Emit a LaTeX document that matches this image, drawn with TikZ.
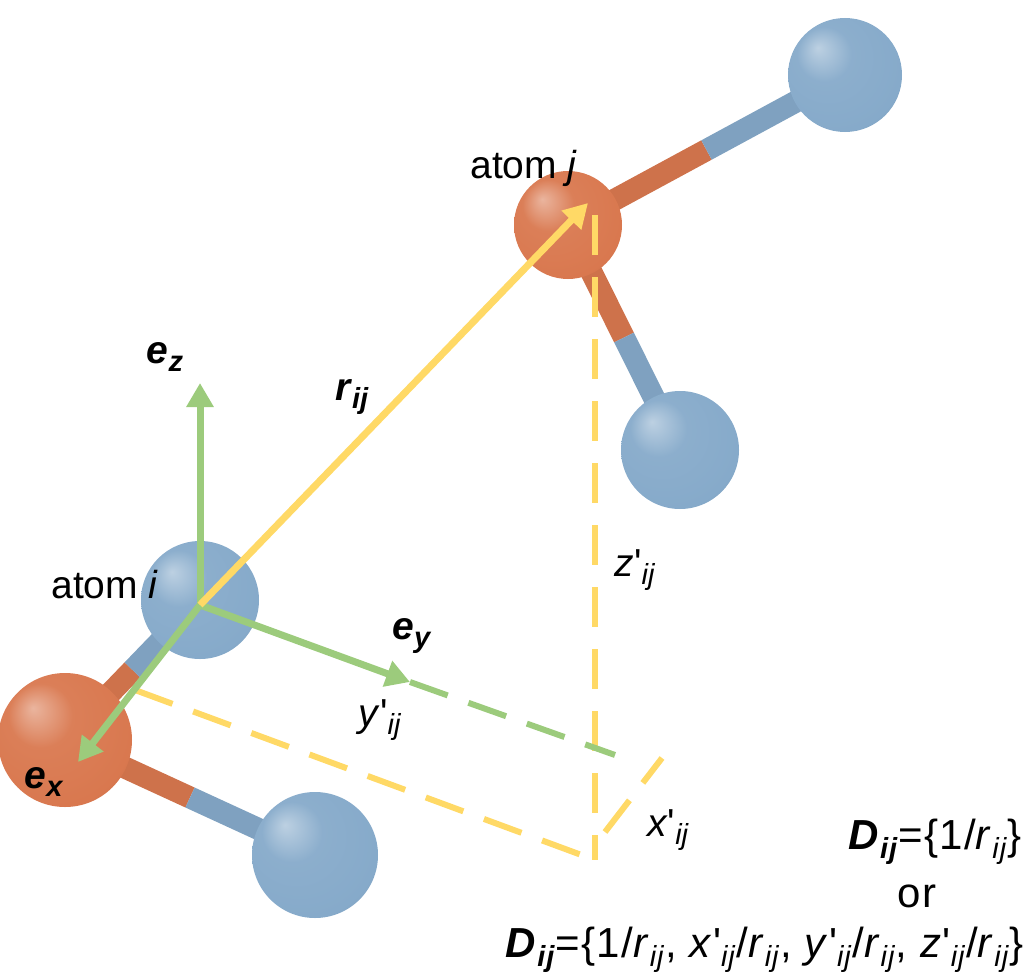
\documentclass[tikz,border=0pt]{standalone}
\usepackage{fontspec}
\setmainfont{Liberation Sans}
\usetikzlibrary{arrows.meta,calc}
\definecolor{orb}{HTML}{D9784F}
\definecolor{blb}{HTML}{86AACA}
\definecolor{grn}{HTML}{9CCB7C}
\definecolor{ylw}{HTML}{FFD966}
\pgfdeclareradialshading{sphO}{\pgfpoint{-12bp}{12bp}}{color(0bp)=(orb!55!white); color(12bp)=(orb!95!white); color(30bp)=(orb); color(44bp)=(orb!85!black); color(50bp)=(orb!70!black)}
\pgfdeclareradialshading{sphB}{\pgfpoint{-12bp}{12bp}}{color(0bp)=(blb!55!white); color(12bp)=(blb!95!white); color(30bp)=(blb); color(44bp)=(blb!85!black); color(50bp)=(blb!70!black)}
\newcommand\sbs[1]{\raisebox{-0.22em}{\fontsize{29}{30}\selectfont #1}}
\newcommand\pr{\textquotesingle}
\tikzset{
 ballO/.style={shading=sphO, draw=none},
 ballB/.style={shading=sphB, draw=none},
 bondO/.style={line width=22pt, orb!95!black},
 bondB/.style={line width=22pt, blb!95!black},
 vec/.style={line width=7pt, -{Triangle[length=24pt,width=26pt]}},
 dsh/.style={line width=6pt, dash pattern=on 40pt off 22pt},
 lbl/.style={font=\fontsize{39}{42}\selectfont, inner sep=0pt},
 dlbl/.style={font=\fontsize{42}{44}\selectfont\addfontfeature{LetterSpace=3}, inner sep=0pt}
}
\begin{document}
\begin{tikzpicture}[x=1pt,y=-1pt]
\useasboundingbox (0,0) rectangle (1025,974);
\coordinate (j) at (568,225);
\coordinate (b1) at (845,75);
\coordinate (b2) at (680,450);
\coordinate (i) at (200,600);
\coordinate (o2) at (65,740);
\coordinate (b3) at (315,855);
\coordinate (o) at (200,605);
% bonds
\draw[bondO] (j) -- ($(j)!0.5!(b1)$);
\draw[bondB] ($(j)!0.5!(b1)$) -- (b1);
\draw[bondO] (j) -- ($(j)!0.5!(b2)$);
\draw[bondB] ($(j)!0.5!(b2)$) -- (b2);
\draw[bondO] (o2) -- ($(o2)!0.5!(i)$);
\draw[bondB] ($(o2)!0.5!(i)$) -- (i);
\draw[bondO] (o2) -- ($(o2)!0.5!(b3)$);
\draw[bondB] ($(o2)!0.5!(b3)$) -- (b3);
% spheres
\shade[ballB] (b1) circle (57);
\shade[ballB] (b2) circle (59);
\shade[ballO] (j) circle (54);
\shade[ballB] (b3) circle (63);
\shade[ballB] (i) circle (59);
\shade[ballO] (o2) circle (67);
% dashed lines
\coordinate (c) at (595,860);
\coordinate (top) at (595,215);
\coordinate (ys) at (135,690);
\coordinate (ey) at (410,682);
\coordinate (ge) at (615,755);
\coordinate (x1) at (605,832);
\coordinate (x2) at (662,758);
\draw[dsh, ylw] (top) -- (c);
\draw[dsh, ylw] (ys) -- (c);
\draw[dsh, ylw] (x1) -- (x2);
\draw[dsh, grn] (ey) -- (ge);
% vectors
\draw[vec, grn] (o) -- (200,383);
\draw[vec, grn] (o) -- (ey);
\draw[vec, grn] (o) -- (78,762);
\draw[vec, ylw] (o) -- (588,203);
% labels
\node[lbl] (lj) at (524,168) {atom \textit{j}};
\node[lbl] (li) at (105,585) {atom \textit{i}};
\node[lbl] (lez) at (165,357) {\textbf{\textit{e}}\sbs{\textbf{\textit{z}}}};
\node[lbl] (ley) at (412,636) {\textbf{\textit{e}}\sbs{\textbf{\textit{y}}}};
\node[lbl] (lex) at (44,782) {\textbf{\textit{e}}\sbs{\textbf{\textit{x}}}};
\node[lbl] (lr) at (352,397) {\textbf{\textit{r}}\sbs{\textbf{\textit{ij}}}};
\node[lbl] (ly) at (380,720) {\textit{y}\pr\sbs{\textit{ij}}};
\node[lbl] (lz) at (635,570) {\textit{z}\pr\sbs{\textit{ij}}};
\node[lbl] (lx) at (668,830) {\textit{x}\pr\sbs{\textit{ij}}};
\node[dlbl, anchor=east] (d1) at (1022,842) {\textbf{\textit{D}}\sbs{\textbf{\textit{ij}}}=\{1/\textit{r}\sbs{\textit{ij}}\}};
\node[dlbl] (or) at (917,896) {or};
\node[dlbl, anchor=east] (d2) at (1024,950) {\textbf{\textit{D}}\sbs{\textbf{\textit{ij}}}=\{1/\textit{r}\sbs{\textit{ij}}, \textit{x}\pr\sbs{\textit{ij}}/\textit{r}\sbs{\textit{ij}}, \textit{y}\pr\sbs{\textit{ij}}/\textit{r}\sbs{\textit{ij}}, \textit{z}\pr\sbs{\textit{ij}}/\textit{r}\sbs{\textit{ij}}\}};
\end{tikzpicture}
\end{document}
